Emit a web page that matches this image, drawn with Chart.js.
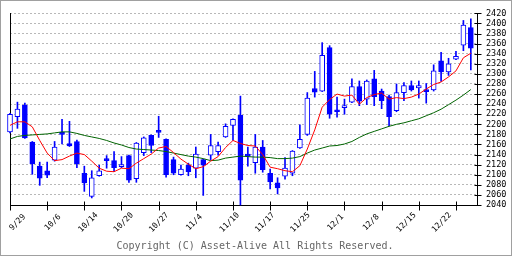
<!DOCTYPE html>
<html><head><meta charset="utf-8">
<script src="https://cdn.jsdelivr.net/npm/chart.js@4/dist/chart.umd.min.js"></script>
<style>
html,body{margin:0;padding:0;background:#fff;}
#wrap{width:510px;height:254px;border:1px solid #a0a0a0;position:relative;background:#fff;}
canvas{display:block;}
</style></head><body>
<div id="wrap"><canvas id="c" width="510" height="254"></canvas></div>
<script>
// trading slots (weekdays)
const dates = ['9/29','9/30','10/1','10/2','10/3','10/6','10/7','10/8','10/9','10/10',
 '10/13','10/14','10/15','10/16','10/17','10/20','10/21','10/22','10/23','10/24',
 '10/27','10/28','10/29','10/30','10/31','11/3','11/4','11/5','11/6','11/7',
 '11/10','11/11','11/12','11/13','11/14','11/17','11/18','11/19','11/20','11/21',
 '11/24','11/25','11/26','11/27','11/28','12/1','12/2','12/3','12/4','12/5',
 '12/8','12/9','12/10','12/11','12/12','12/15','12/16','12/17','12/18','12/19',
 '12/22','12/23','12/24'];
const weekLabels = ['9/29','10/6','10/14','10/20','10/27','11/4','11/10','11/17','11/25','12/1','12/8','12/15','12/22'];
const yTicks = [2040,2060,2080,2100,2120,2140,2160,2180,2200,2220,2240,2260,2280,2300,2320,2340,2360,2380,2400,2420];

const opens  = [2185,2215,2238,2165,2117,2108,2129,2182,2162,2166,2103,2057,2098,2132,2128,2116,2138,2092,2144,2178,
                2187,2170,2130,2100,2119,2113,2130,2139,2146,2175,2198,2218,2140,2124,2155,2103,2084,2097,2103,2153,
                2180,2271,2266,2352,2228,2233,2244,2275,2250,2290,2266,2255,2227,2263,2277,2272,2268,2268,2326,2304,
                2329,2357,2392];
const highs  = [2222,2244,2242,2166,2125,2125,2166,2210,2206,2169,2117,2108,2119,2138,2146,2136,2139,2164,2175,2179,
                2216,2171,2135,2119,2123,2155,2131,2180,2165,2201,2211,2256,2155,2180,2168,2111,2094,2134,2148,2199,
                2263,2305,2362,2356,2254,2250,2290,2286,2288,2307,2270,2258,2280,2283,2286,2286,2281,2318,2343,2331,
                2345,2406,2409];
const lows   = [2183,2192,2172,2101,2079,2094,2127,2161,2156,2114,2067,2054,2097,2113,2106,2114,2085,2085,2138,2144,
                2174,2095,2100,2099,2098,2094,2059,2130,2139,2174,2168,2040,2117,2103,2105,2072,2062,2091,2098,2152,
                2178,2254,2265,2212,2214,2220,2243,2237,2239,2237,2231,2197,2225,2247,2266,2252,2242,2266,2285,2297,
                2328,2346,2308];
const closes = [2220,2230,2173,2122,2093,2099,2155,2180,2157,2122,2084,2094,2108,2128,2114,2120,2089,2163,2173,2158,
                2184,2100,2103,2111,2106,2141,2119,2158,2158,2196,2210,2089,2137,2155,2110,2086,2074,2113,2147,2170,
                2252,2264,2337,2220,2225,2235,2275,2246,2286,2255,2247,2215,2263,2277,2268,2277,2265,2306,2304,2320,
                2335,2397,2351];
const ma5  = [2198,2205,2205,2195,2168,2143,2128,2130,2137,2143,2140,2127,2113,2107,2106,2113,2112,2123,2132,2141,
              2153,2156,2144,2131,2121,2112,2116,2127,2136,2154,2168,2162,2158,2157,2140,2115,2112,2108,2106,2118,
              2151,2189,2234,2249,2260,2256,2258,2240,2253,2259,2262,2250,2253,2251,2254,2260,2270,2279,2284,2294,
              2306,2332,2341];
const ma25 = [2171,2176,2178,2179,2180,2181,2183,2185,2185,2182,2178,2175,2172,2168,2163,2159,2154,2151,2150,2149,
              2148,2146,2143,2140,2137,2135,2132,2128,2129,2133,2135,2137,2136,2135,2135,2134,2132,2132,2133,2136,
              2143,2149,2153,2157,2158,2161,2166,2174,2181,2186,2191,2196,2200,2203,2207,2211,2217,2223,2230,2239,
              2248,2258,2269];

const BLUE = '#0000ff';
const TICK_EVERY = 5;
// date labels sit on their own even spacing (slightly tighter than the ticks)
const LABEL_X0 = 16.6, LABEL_STEP = 35.34, LABEL_Y = 221.5;

const framePlugin = {
  id: 'frame',
  beforeDatasetsDraw(chart) {
    const {ctx, chartArea: a, scales: {x, y}} = chart;
    ctx.save();
    ctx.strokeStyle = '#000'; ctx.lineWidth = 1;
    const L = Math.round(a.left) + 0.5, R = Math.round(a.right) + 0.5;
    const T = Math.round(a.top), B = Math.round(a.bottom) + 0.5;
    ctx.beginPath();
    ctx.moveTo(L, T); ctx.lineTo(L, B); ctx.lineTo(R, B); ctx.lineTo(R, T);
    yTicks.forEach(v => {
      const py = Math.round(y.getPixelForValue(v)) + 0.5;
      ctx.moveTo(R - 3, py); ctx.lineTo(R + 4, py);
    });
    weekLabels.forEach((lab, k) => {
      const px = Math.round(x.getPixelForValue(k * TICK_EVERY)) + 0.5;
      ctx.moveTo(px, B - 4); ctx.lineTo(px, B + 5);
    });
    ctx.stroke();
    ctx.restore();
  },
  afterDraw(chart) {
    const {ctx} = chart;
    ctx.save();
    ctx.fillStyle = '#000';
    ctx.font = '8px "DejaVu Sans Mono"';
    ctx.textAlign = 'center'; ctx.textBaseline = 'middle';
    weekLabels.forEach((lab, k) => {
      ctx.save();
      ctx.translate(LABEL_X0 + k * LABEL_STEP, LABEL_Y);
      ctx.rotate(-Math.PI / 4);
      ctx.fillText(lab, 0, 0);
      ctx.restore();
    });
    ctx.fillStyle = '#666666';
    ctx.font = '10px "DejaVu Sans Mono"';
    ctx.textAlign = 'center'; ctx.textBaseline = 'alphabetic';
    ctx.fillText('Copyright (C) Asset-Alive All Rights Reserved.', 254, 248);
    ctx.restore();
  }
};

new Chart(document.getElementById('c'), {
  data: {
    datasets: [
      { type: 'line', label: 'MA5', data: ma5.map((v, i) => ({x: i, y: v})),
        borderColor: '#ff0000', borderWidth: 1, pointRadius: 0, tension: 0, order: 0, clip: false },
      { type: 'line', label: 'MA25', data: ma25.map((v, i) => ({x: i, y: v})),
        borderColor: '#006400', borderWidth: 1, pointRadius: 0, tension: 0, order: 0, clip: false },
      { type: 'bar', label: 'body', data: opens.map((o, i) => ({x: i, y: [o, closes[i]]})),
        backgroundColor: ctx => { const i = ctx.dataIndex; return closes[i] >= opens[i] ? '#ffffff' : BLUE; },
        borderColor: BLUE, borderWidth: 1, borderSkipped: false, barThickness: 5, minBarLength: 2,
        grouped: false, order: 1, clip: false },
      { type: 'bar', label: 'wick', data: highs.map((h, i) => ({x: i, y: [lows[i], h]})),
        backgroundColor: BLUE, borderWidth: 0, barThickness: 1, grouped: false, order: 2, clip: false }
    ]
  },
  options: {
    responsive: false, animation: false, devicePixelRatio: 1,
    layout: { padding: { left: 9, top: 4, right: 0, bottom: 0 } },
    plugins: { legend: { display: false }, tooltip: { enabled: false } },
    scales: {
      x: { type: 'linear', min: 0, max: 62.83, offset: false,
           ticks: { display: false }, grid: { display: false }, border: { display: false },
           afterFit(s) { s.height = 50; } },
      y: { type: 'linear', position: 'right', min: 2040, max: 2420,
           afterBuildTicks(s) { s.ticks = yTicks.map(v => ({value: v})); },
           ticks: { padding: 9, color: '#000', callback: v => String(v),
                    font: { family: 'DejaVu Sans Mono', size: 8.5, lineHeight: 0.8 } },
           grid: { color: '#b8b8b8', lineWidth: 1, drawTicks: false },
           border: { display: false, dash: [2, 2] },
           afterFit(s) { s.width = 34; } }
    }
  },
  plugins: [framePlugin]
});
</script>
</body></html>
